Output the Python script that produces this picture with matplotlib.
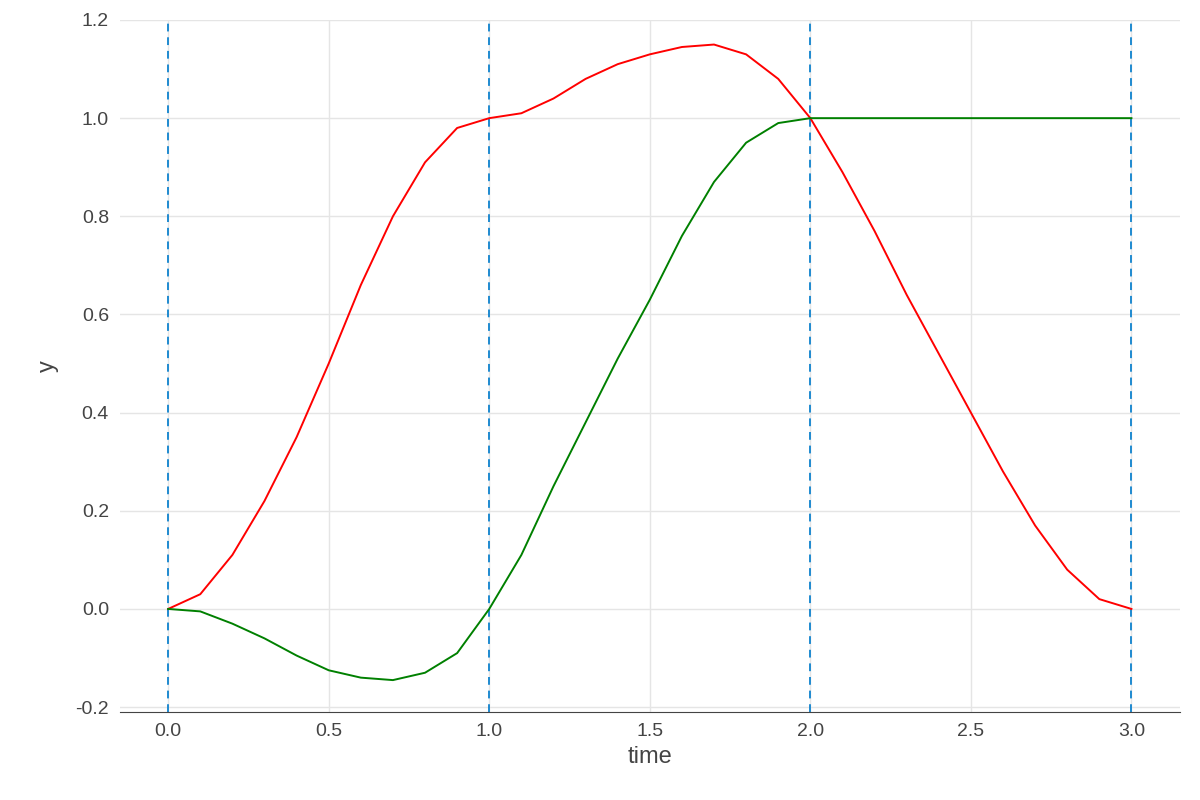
import matplotlib.pyplot as plt

plt.rcParams['font.family'] = ['Liberation Sans', 'DejaVu Sans']

t = [0.0, 0.1, 0.2, 0.3, 0.4, 0.5, 0.6, 0.7, 0.8, 0.9, 1.0,
     1.1, 1.2, 1.3, 1.4, 1.5, 1.6, 1.7, 1.8, 1.9, 2.0,
     2.1, 2.2, 2.3, 2.4, 2.5, 2.6, 2.7, 2.8, 2.9, 3.0]
red = [0.0, 0.03, 0.11, 0.22, 0.35, 0.50, 0.66, 0.80, 0.91, 0.98, 1.0,
       1.01, 1.04, 1.08, 1.11, 1.13, 1.145, 1.15, 1.13, 1.08, 1.0,
       0.89, 0.77, 0.64, 0.52, 0.40, 0.28, 0.17, 0.08, 0.02, 0.0]
green = [0.0, -0.005, -0.03, -0.06, -0.095, -0.125, -0.14, -0.145, -0.13, -0.09, 0.0,
         0.11, 0.25, 0.38, 0.51, 0.63, 0.76, 0.87, 0.95, 0.99, 1.0,
         1.0, 1.0, 1.0, 1.0, 1.0, 1.0, 1.0, 1.0, 1.0, 1.0]
vlines = [0, 1, 2, 3]

fig, ax = plt.subplots(figsize=(12, 8), dpi=100)
fig.subplots_adjust(left=0.1, right=0.983, top=0.975, bottom=0.11)
ax.grid(color='#e5e5e5', linewidth=1)
ax.set_axisbelow(True)
for v in vlines:
    ax.axvline(v, color='#1f8ad0', linestyle='--', linewidth=1.4, dashes=(4, 3))
ax.plot(t, red, color='red', linewidth=1.4)
ax.plot(t, green, color='green', linewidth=1.4)
ax.set_xlim(-0.15, 3.15)
ax.set_ylim(-0.21, 1.2)
ax.set_xticks([0, 0.5, 1, 1.5, 2, 2.5, 3])
ax.set_xticklabels(['0.0', '0.5', '1.0', '1.5', '2.0', '2.5', '3.0'])
ax.set_yticks([-0.2, 0, 0.2, 0.4, 0.6, 0.8, 1.0, 1.2])
ax.set_yticklabels(['-0.2', '0.0', '0.2', '0.4', '0.6', '0.8', '1.0', '1.2'])
for s in ['top', 'right', 'left']:
    ax.spines[s].set_visible(False)
ax.spines['bottom'].set_color('#444444')
ax.tick_params(length=0, labelsize=14, colors='#444444', pad=8)
ax.set_xlabel('time', fontsize=17, color='#444444')
ax.set_ylabel('y', fontsize=17, color='#444444', labelpad=12)
fig.savefig('out.png')
